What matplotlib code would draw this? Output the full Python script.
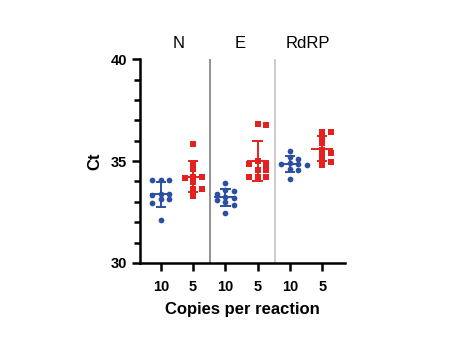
"""
Ct values at 10 and 5 copies per reaction for the N, E and RdRP targets.
"""

import numpy as np
import matplotlib
matplotlib.use('Agg')
import matplotlib.pyplot as plt
from matplotlib.ticker import MultipleLocator

# ── Data ──────────────────────────────────────────────────────
genes = ['N', 'E', 'RdRP']
copies = ['10', '5', '10', '5', '10', '5']

n_10 = [34.08, 34.08, 34.08, 33.40, 33.40, 33.35, 33.15, 33.15, 32.95, 32.10]
n_5 = [35.85, 34.87, 34.63, 34.20, 34.20, 34.15, 33.97, 33.62, 33.62, 33.27]
e_10 = [33.90, 33.60, 33.55, 33.40, 33.25, 33.20, 33.10, 33.00, 32.85, 32.45]
e_5 = [36.75, 36.80, 35.00, 34.84, 34.84, 34.58, 34.58, 34.22, 34.22, 34.22]
rdrp_10 = [35.50, 35.20, 35.10, 34.90, 34.88, 34.85, 34.80, 34.60, 34.55, 34.10]
rdrp_5 = [36.45, 36.45, 36.20, 35.90, 35.55, 35.40, 35.30, 35.05, 34.95, 34.80]

series = [n_10, n_5, e_10, e_5, rdrp_10, rdrp_5]

BLUE = '#2b4fa3'
RED = '#e3211f'

# ── Figure ────────────────────────────────────────────────────
plt.rcParams['font.family'] = ['Liberation Sans', 'DejaVu Sans']

fig = plt.figure(figsize=(4.74, 3.38), dpi=100)
ax = fig.add_axes([0.295, 0.222, 0.433, 0.603])

XMIN, XMAX = -0.65, 5.71
YMIN, YMAX = 30, 40
ax.set_xlim(XMIN, XMAX)
ax.set_ylim(YMIN, YMAX)

# pixel scale, used to spread overlapping points sideways
px_x = 0.433 * 474 / (XMAX - XMIN)
px_y = 0.603 * 338 / (YMAX - YMIN)
STEP = 8.5    # px between neighbours in a row
MIN_D = 4.5   # px, closest allowed distance


def swarm(values):
    placed = []
    offs = np.zeros(len(values))
    order = np.argsort(values)[::-1]
    for i in order:
        y = values[i]
        for k in [0, 1, -1, 2, -2, 3, -3]:
            dx = k * STEP / px_x
            ok = all(np.hypot((dx - px) * px_x, (y - py) * px_y) >= MIN_D
                     for (px, py) in placed)
            if ok:
                break
        offs[i] = dx
        placed.append((dx, y))
    return offs


for i, vals in enumerate(series):
    vals = np.array(vals)
    color = BLUE if i % 2 == 0 else RED
    marker = 'o' if i % 2 == 0 else 's'
    xs = i + swarm(vals)
    ax.scatter(xs, vals, s=17, marker=marker, color=color,
               linewidths=0, zorder=3)
    m = vals.mean()
    sd = vals.std(ddof=1)
    ax.hlines(m, i - 0.34, i + 0.34, color=color, lw=1.4, zorder=4)
    ax.vlines(i, m - sd, m + sd, color=color, lw=1.4, zorder=4)
    ax.hlines([m - sd, m + sd], i - 0.16, i + 0.16, color=color, lw=1.4,
              zorder=4)

# group separators
ax.axvline(1.52, color='#7f7f7f', lw=1.2, zorder=1)
ax.axvline(3.54, color='#c4c4c4', lw=1.2, zorder=1)

for x, g in zip([0.55, 2.47, 4.57], genes):
    ax.text(x, 1.075, g, transform=ax.get_xaxis_transform(),
            ha='center', va='center', fontsize=12)

ax.set_xticks(range(6))
ax.set_xticklabels(copies, fontsize=10.5, fontweight='bold')
ax.set_yticks([30, 35, 40])
ax.set_yticklabels(['30', '35', '40'], fontsize=10.5, fontweight='bold')
ax.yaxis.set_minor_locator(MultipleLocator(1))

ax.tick_params(axis='both', which='major', length=6, width=1.8, pad=3)
ax.tick_params(axis='x', pad=6)
ax.tick_params(axis='y', which='minor', length=4, width=1.8)

ax.spines['top'].set_visible(False)
ax.spines['right'].set_visible(False)
ax.spines['left'].set_linewidth(1.8)
ax.spines['bottom'].set_linewidth(1.8)

ax.set_ylabel('Ct', fontsize=12, fontweight='bold', labelpad=6)
ax.set_xlabel('Copies per reaction', fontsize=12, fontweight='bold',
              labelpad=6)

fig.savefig('out.png', dpi=100, facecolor='white')
plt.close(fig)
